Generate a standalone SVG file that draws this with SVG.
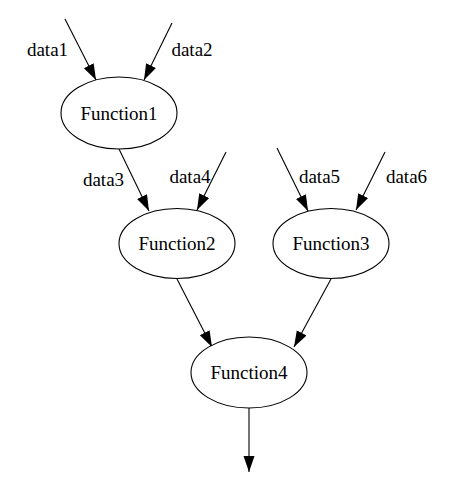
<svg xmlns="http://www.w3.org/2000/svg" width="456" height="494" viewBox="0 0 456 494">
<defs>
<style>
.node ellipse{fill:#fff;stroke:#000;stroke-width:1.1}
text{font-family:"Liberation Serif","Times New Roman",serif;font-size:19px;fill:#000;text-anchor:middle}
.edges line{stroke:#000;stroke-width:1.1;marker-end:url(#arr)}
</style>
<marker id="arr" markerUnits="userSpaceOnUse" markerWidth="17" markerHeight="12" refX="16" refY="5.5" orient="auto" viewBox="0 0 17 12">
<path d="M0,0 L16,5.5 L0,11 z" fill="#000"/>
</marker>
</defs>
<rect width="456" height="494" fill="#fff"/>
<g id="edges" class="edges">
<line x1="65" y1="19" x2="96" y2="80"/>
<line x1="172" y1="23" x2="144" y2="80"/>
<line x1="119" y1="149" x2="149" y2="211"/>
<line x1="226" y1="152" x2="197" y2="210"/>
<line x1="277" y1="148" x2="308" y2="211"/>
<line x1="385" y1="152" x2="356" y2="210"/>
<line x1="177" y1="279" x2="212" y2="347"/>
<line x1="331" y1="279" x2="294" y2="347"/>
<line x1="249" y1="408" x2="249" y2="472"/>
</g>
<g id="edge-labels">
<text x="47.5" y="56">data1</text>
<text x="192" y="56">data2</text>
<text x="103.5" y="186">data3</text>
<text x="190" y="183">data4</text>
<text x="319.5" y="183">data5</text>
<text x="406.5" y="183">data6</text>
</g>
<g id="function1" class="node"><ellipse cx="119" cy="113" rx="58" ry="36"/><text x="119" y="120">Function1</text></g>
<g id="function2" class="node"><ellipse cx="177" cy="243.5" rx="58" ry="35"/><text x="177" y="250">Function2</text></g>
<g id="function3" class="node"><ellipse cx="331" cy="243.5" rx="58" ry="35"/><text x="331" y="250">Function3</text></g>
<g id="function4" class="node"><ellipse cx="249" cy="372.5" rx="58" ry="35.5"/><text x="249" y="379">Function4</text></g>
</svg>
